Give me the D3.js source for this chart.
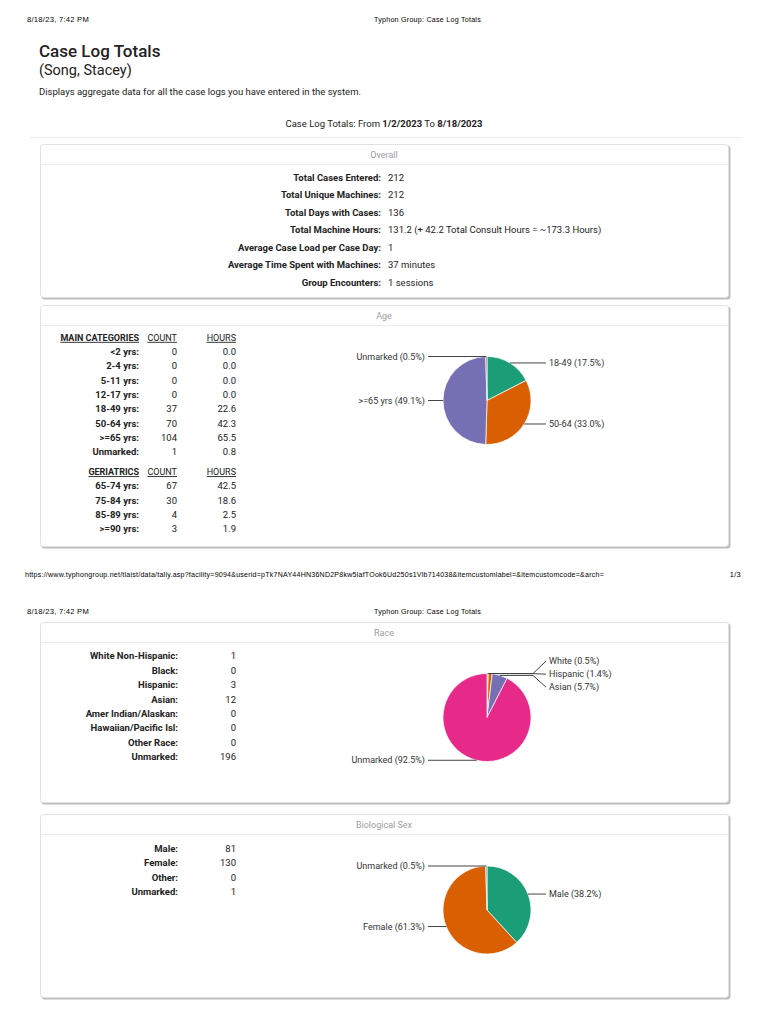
<!DOCTYPE html>
<html>
<head>
<meta charset="utf-8">
<script src="https://cdn.jsdelivr.net/npm/d3@7"></script>
<style>
  body { margin: 0; background: #fff; }
  text { font-family: Roboto, "Liberation Sans", sans-serif; fill: #222; }
  .tiny { font-family: "Liberation Sans Narrow", "Liberation Sans", sans-serif; font-size: 7.5px; letter-spacing: 0.25px; fill: #000; }
</style>
</head>
<body>
<div class="svg-wrap"></div>
<script>
let printDate = "8/18/23, 7:42 PM";
let pageTitle = "Typhon Group: Case Log Totals";
let pageUrl = "https://www.typhongroup.net/tlaist/data/tally.asp?facility=9094&userid=pTk7NAY44HN36ND2P8kw5lafTOok6Ud250s1Vlb714038&itemcustomlabel=&itemcustomcode=&arch=";
let dateFrom = "1/2/2023", dateTo = "8/18/2023";

let overallLabels = ["Total Cases Entered:", "Total Unique Machines:", "Total Days with Cases:", "Total Machine Hours:",
  "Average Case Load per Case Day:", "Average Time Spent with Machines:", "Group Encounters:"];
let overallValues = ["212", "212", "136", "131.2 (+ 42.2 Total Consult Hours = ~173.3 Hours)", "1", "37 minutes", "1 sessions"];

let ageCategories = ["<2 yrs:", "2-4 yrs:", "5-11 yrs:", "12-17 yrs:", "18-49 yrs:", "50-64 yrs:", ">=65 yrs:", "Unmarked:"];
let agePieNames = ["<2", "2-4", "5-11", "12-17", "18-49", "50-64", ">=65 yrs", "Unmarked"];
let ageCounts = [0, 0, 0, 0, 37, 70, 104, 1];
let ageHours = [0.0, 0.0, 0.0, 0.0, 22.6, 42.3, 65.5, 0.8];

let geriCategories = ["65-74 yrs:", "75-84 yrs:", "85-89 yrs:", ">=90 yrs:"];
let geriCounts = [67, 30, 4, 3];
let geriHours = [42.5, 18.6, 2.5, 1.9];

let raceCategories = ["White Non-Hispanic:", "Black:", "Hispanic:", "Asian:", "Amer Indian/Alaskan:", "Hawaiian/Pacific Isl:", "Other Race:", "Unmarked:"];
let racePieNames = ["White", "Black", "Hispanic", "Asian", "Amer Indian/Alaskan", "Hawaiian/Pacific Isl", "Other Race", "Unmarked"];
let raceCounts = [1, 0, 3, 12, 0, 0, 0, 196];

let sexCategories = ["Male:", "Female:", "Other:", "Unmarked:"];
let sexPieNames = ["Male", "Female", "Other", "Unmarked"];
let sexCounts = [81, 130, 0, 1];

var width = 768, height = 1024;
var radius = 44;

let svg = d3.select(".svg-wrap")
  .append("svg")
  .attr("width", width)
  .attr("height", height)
  .style("background-color", "white");

// print header / footer
function printHeader(y) {
  svg.append("text").attr("class", "tiny").attr("x", 27).attr("y", y)
    .attr("textLength", 62).attr("lengthAdjust", "spacingAndGlyphs").text(printDate);
  svg.append("text").attr("class", "tiny").attr("x", 374).attr("y", y)
    .attr("textLength", 107).attr("lengthAdjust", "spacingAndGlyphs").text(pageTitle);
}
printHeader(21.5);
printHeader(613.5);

svg.append("text").attr("class", "tiny").attr("x", 25).attr("y", 576.5)
  .attr("textLength", 579).attr("lengthAdjust", "spacingAndGlyphs").text(pageUrl);
svg.append("text").attr("class", "tiny").attr("x", 741).attr("y", 576.5).style("text-anchor", "end").text("1/3");

// title block
svg.append("text").attr("x", 39).attr("y", 56.5).style("font-size", "17px").style("font-weight", 500).text("Case Log Totals");
svg.append("text").attr("x", 39).attr("y", 75).style("font-size", "14.5px").text("(Song, Stacey)");
svg.append("text").attr("x", 39).attr("y", 94.5).style("font-size", "9.5px")
  .text("Displays aggregate data for all the case logs you have entered in the system.");

let range = svg.append("text").attr("x", 384).attr("y", 126.5).style("font-size", "9.5px").style("text-anchor", "middle");
range.append("tspan").text("Case Log Totals: From ");
range.append("tspan").style("font-weight", "bold").text(dateFrom);
range.append("tspan").text(" To ");
range.append("tspan").style("font-weight", "bold").text(dateTo);

svg.append("line").attr("x1", 30).attr("x2", 742).attr("y1", 137.5).attr("y2", 137.5)
  .style("stroke", "#ececec").style("stroke-width", 1);

function drawBox(top, bottom, title) {
  let g = svg.append("g");
  g.append("rect").attr("x", 41.5).attr("y", top + 1.5).attr("width", 689).attr("height", bottom - top)
    .attr("rx", 3).style("fill", "#bdbdbd");
  g.append("rect").attr("x", 40.5).attr("y", top + 0.5).attr("width", 688).attr("height", bottom - top - 1)
    .attr("rx", 3).style("fill", "#fff").style("stroke", "#e2e2e2").style("stroke-width", 1);
  g.append("text").attr("x", 384).attr("y", top + 10.5).attr("dy", "0.35em")
    .style("font-size", "9px").style("fill", "#9e9e9e").style("text-anchor", "middle").text(title);
  g.append("line").attr("x1", 41).attr("x2", 728).attr("y1", top + 20.5).attr("y2", top + 20.5)
    .style("stroke", "#ececec");
  return g;
}

function cell(g, x, y, txt, bold, anchor, underline, size) {
  return g.append("text").attr("x", x).attr("y", y).attr("dy", "0.35em")
    .style("font-size", (size || 9.5) + "px")
    .style("font-weight", bold ? "bold" : "normal")
    .style("text-anchor", anchor || "end")
    .style("text-decoration", underline ? "underline" : "none")
    .text(txt);
}

// Overall
let overall = drawBox(144, 298, "Overall");
overallLabels.forEach((l, i) => {
  let y = 177.3 + i * 17.5;
  cell(overall, 381, y, l, true, "end");
  cell(overall, 388, y, overallValues[i], false, "start");
});

// Age
let age = drawBox(305, 547, "Age");
cell(age, 139, 337.7, "MAIN CATEGORIES", true, "end", true, 9);
cell(age, 177, 337.7, "COUNT", false, "end", true, 9);
cell(age, 236, 337.7, "HOURS", false, "end", true, 9);
ageCategories.forEach((l, i) => {
  let y = 351.7 + i * 14.33;
  cell(age, 139, y, l, true);
  cell(age, 177, y, ageCounts[i]);
  cell(age, 236, y, d3.format(".1f")(ageHours[i]));
});
cell(age, 139, 472, "GERIATRICS", true, "end", true, 9);
cell(age, 177, 472, "COUNT", false, "end", true, 9);
cell(age, 236, 472, "HOURS", false, "end", true, 9);
geriCategories.forEach((l, i) => {
  let y = 485.9 + i * 14.4;
  cell(age, 139, y, l, true);
  cell(age, 177, y, geriCounts[i]);
  cell(age, 236, y, d3.format(".1f")(geriHours[i]));
});
drawPie(age, 487, 400.5, agePieNames, ageCounts);

// Race
let race = drawBox(622, 803, "Race");
raceCategories.forEach((l, i) => {
  let y = 656 + i * 14.4;
  cell(race, 178, y, l, true);
  cell(race, 236, y, raceCounts[i]);
});
drawPie(race, 487, 717.5, racePieNames, raceCounts);

// Biological sex
let sex = drawBox(814, 998, "Biological Sex");
sexCategories.forEach((l, i) => {
  let y = 848.7 + i * 14.35;
  cell(sex, 178, y, l, true);
  cell(sex, 236, y, sexCounts[i]);
});
drawPie(sex, 487, 910, sexPieNames, sexCounts);

function spread(list) {
  list.sort((a, b) => a.ay - b.ay);
  let groups = [];
  list.forEach(d => {
    let g = groups[groups.length - 1];
    if (g && d.ay - g[g.length - 1].ay < 13) g.push(d);
    else groups.push([d]);
  });
  groups.forEach(g => {
    let m = d3.mean(g, d => d.ay);
    g.forEach((d, k) => d.ly = m + (k - (g.length - 1) / 2) * 13);
  });
}

function drawPie(g, cx, cy, names, counts) {
  let slices = names.map((n, i) => ({ name: n, value: counts[i] })).filter(d => d.value > 0);
  let total = d3.sum(slices, d => d.value);
  let color = d3.scaleOrdinal().domain(slices.map(d => d.name)).range(d3.schemeDark2);
  let arcs = d3.pie().sort(null).value(d => d.value)(slices);
  let arc = d3.arc().innerRadius(0).outerRadius(radius);

  g.append("g").attr("transform", "translate(" + cx + "," + cy + ")")
    .selectAll("path")
    .data(arcs)
    .enter()
    .append("path")
    .attr("d", arc)
    .style("fill", d => color(d.data.name))
    .style("stroke", "#fff")
    .style("stroke-width", 0.7);

  arcs.forEach(d => {
    let a = (d.startAngle + d.endAngle) / 2;
    d.ax = cx + radius * Math.sin(a);
    d.ay = cy - radius * Math.cos(a);
    d.side = d.ax >= cx ? 1 : -1;
  });
  spread(arcs.filter(d => d.side > 0));
  spread(arcs.filter(d => d.side < 0));

  let labels = g.append("g");
  arcs.forEach(d => {
    let elbow = cx + d.side * 46;
    let end = cx + d.side * 59;
    labels.append("polyline")
      .attr("points", [[d.ax, d.ay], [elbow, d.ay], [end, d.ly]].join(" "))
      .style("fill", "none")
      .style("stroke", "#444")
      .style("stroke-width", 1);
    labels.append("text")
      .attr("x", cx + d.side * 62)
      .attr("y", d.ly)
      .attr("dy", "0.35em")
      .style("font-size", "9px")
      .style("fill", "#333")
      .style("text-anchor", d.side > 0 ? "start" : "end")
      .text(d.data.name + " (" + d3.format(".1%")(d.data.value / total) + ")");
  });
}
</script>
</body>
</html>
